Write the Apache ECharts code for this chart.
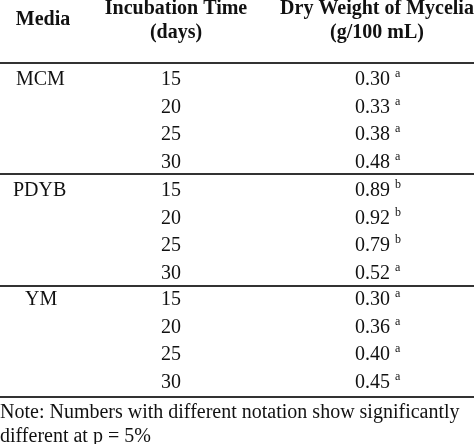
<!DOCTYPE html>
<html><head><meta charset="utf-8">
<script src="https://cdn.jsdelivr.net/npm/echarts@6/dist/echarts.min.js"></script>
<style>html,body{margin:0;padding:0;background:#fff}#c{width:474px;height:444px}</style>
</head><body><div id="c"></div>
<script>
const media = ["MCM", "PDYB", "YM"];
const days = [15, 20, 25, 30];
const weights = [[0.30, 0.33, 0.38, 0.48], [0.89, 0.92, 0.79, 0.52], [0.30, 0.36, 0.40, 0.45]];
const notation = [["a","a","a","a"], ["b","b","b","a"], ["a","a","a","a"]];
const headers = ["Media", "Incubation Time\n(days)", "Dry Weight of Mycelia\n(g/100 mL)"];
const note = "Note: Numbers with different notation show significantly\ndifferent at p = 5%";

const F = '"Liberation Serif","Times New Roman",serif';
const el = [];
function txt(x, y, s, o) {
  el.push({type:'text', x, y, style: Object.assign({text:s, font:'20px '+F, fill:'#111', textAlign:'center', textVerticalAlign:'middle'}, o||{})});
}
function line(y) {
  el.push({type:'line', shape:{x1:0,y1:y,x2:474,y2:y}, style:{stroke:'#333', lineWidth:2}});
}
txt(43, 20, headers[0], {font:'bold 20px '+F});
txt(176, 21, headers[1], {font:'bold 20px '+F, lineHeight:24});
txt(377, 21, headers[2], {font:'bold 20px '+F, lineHeight:24});
line(63);
const groupTop = [80, 191, 300];
const mediaX = [16, 13, 25];
const sepY = [174, 286, 397];
media.forEach((m, g) => {
  txt(mediaX[g], groupTop[g], m, {textAlign:'left'});
  days.forEach((d, i) => {
    const y = groupTop[g] + i * 27.5;
    txt(171, y, String(d));
    txt(390, y, weights[g][i].toFixed(2), {textAlign:'right'});
    txt(395, y - 6, notation[g][i], {textAlign:'left', font:'12px '+F});
  });
  line(sepY[g]);
});
txt(0, 425, note, {textAlign:'left', lineHeight:24});
const chart = echarts.init(document.getElementById('c'));
chart.setOption({graphic: {elements: el}});
</script></body></html>
